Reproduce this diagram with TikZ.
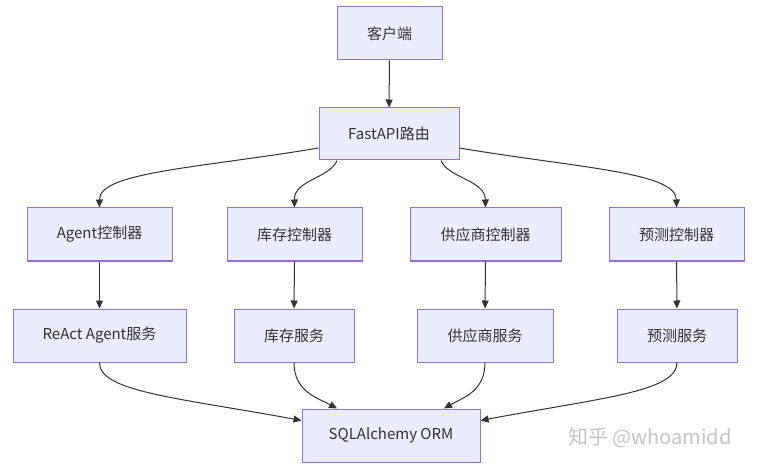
\documentclass[tikz,border=0pt]{standalone}
\usepackage{fontspec}
\setmainfont{Noto Sans CJK SC}
\usetikzlibrary{arrows.meta,calc}
\definecolor{boxfill}{HTML}{ECECFF}
\definecolor{boxline}{HTML}{9370DB}
\definecolor{ink}{HTML}{333333}
\definecolor{wm}{HTML}{C4C4C4}
\begin{document}
\begin{tikzpicture}[x=1pt,y=-1pt,
  box/.style={draw=boxline,fill=boxfill,line width=1pt,minimum height=53pt,inner sep=0pt,
    text=ink,font=\fontsize{15}{18}\selectfont},
  link/.style={draw=ink,line width=1pt,-{Triangle[length=8pt,width=7pt]}}]
\useasboundingbox (0,0) rectangle (757,470);
\fill[white] (0,0) rectangle (757,470);
\node[box,minimum width=105pt] (client) at (389.5,33.5) {客户端};
\node[box,minimum width=140pt,minimum height=52pt] (api) at (389,134) {FastAPI路由};
\node[box,minimum width=145pt] (c1) at (99.5,234.5) {Agent控制器};
\node[box,minimum width=135pt] (c2) at (294.5,234.5) {库存控制器};
\node[box,minimum width=151pt] (c3) at (485.5,234.5) {供应商控制器};
\node[box,minimum width=135pt] (c4) at (676.5,234.5) {预测控制器};
\node[box,minimum width=173pt] (s1) at (99.5,335.5) {ReAct Agent服务};
\node[box,minimum width=120pt] (s2) at (294,335.5) {库存服务};
\node[box,minimum width=136pt] (s3) at (485,335.5) {供应商服务};
\node[box,minimum width=120pt] (s4) at (677,335.5) {预测服务};
\node[box,minimum width=178pt] (orm) at (391,435.5) {SQLAlchemy ORM};
\node[text=wm,font=\fontsize{20}{24}\selectfont,anchor=center] (wmk) at (650,438) {知乎 @whoamidd};
\draw[link] (client) -- (api);
\draw[link] ($(api.west)+(0,14)$) .. controls (200,168) and (99,172) .. (c1.north);
\draw[link] ($(api.south)+(-52,0)$) .. controls (330,178) and (294,180) .. (c2.north);
\draw[link] ($(api.south)+(52,0)$) .. controls (448,178) and (485,180) .. (c3.north);
\draw[link] ($(api.east)+(0,14)$) .. controls (578,168) and (676,172) .. (c4.north);
\draw[link] (c1) -- (s1);
\draw[link] (c2) -- (s2);
\draw[link] (c3) -- (s3);
\draw[link] (c4) -- (s4);
\draw[link] (s1.south) .. controls (99,392) and (180,398) .. ($(orm.west)+(0,-15)$);
\draw[link] (s2.south) .. controls (294,392) and (318,398) .. ($(orm.north)+(-54,0)$);
\draw[link] (s3.south) .. controls (485,392) and (462,398) .. ($(orm.north)+(53,0)$);
\draw[link] (s4.south) .. controls (677,392) and (600,398) .. ($(orm.east)+(0,-15)$);
\end{tikzpicture}
\end{document}
